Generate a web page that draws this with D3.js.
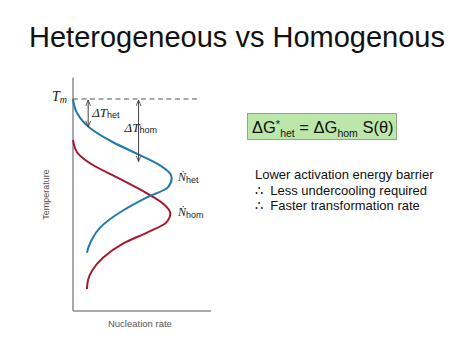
<!DOCTYPE html>
<html>
<head>
<meta charset="utf-8">
<script src="https://cdn.jsdelivr.net/npm/d3@7"></script>
<style>
  body { margin: 0; background: #fff; }
  svg { display: block; }
</style>
</head>
<body>
<svg id="chart" width="474" height="355"></svg>
<script>
// ---- data (rate in arbitrary units 0-100, temperature in arbitrary units, Tm = 100) ----
const titleText = "Heterogeneous vs Homogenous";
const hetRate = [0, 2.9, 12.3, 29, 48.6, 63, 70.3, 71.5, 68.8, 53.6, 36.2, 19.6, 13.5, 11.2, 10.1];
const hetTemp = [100, 93.4, 86.3, 79.6, 73.5, 68.7, 64.9, 62.6, 58.3, 53.6, 47.4, 39.3, 33.5, 30, 27.5];
const homRate = [0, 2.9, 12.3, 31.9, 53.6, 65.2, 70.5, 67.5, 53.6, 36.2, 21.7, 13.8, 10.9, 10.1];
const homTemp = [80.6, 74.9, 69.7, 63, 55.5, 50.7, 46, 41.7, 37, 31.8, 25.1, 19, 14.6, 10.4];
const Tm = 100;
const undercoolHet = { rate: 11, from: 100, to: 86.8 };
const undercoolHom = { rate: 47.5, from: 100, to: 70.5 };
const bullets = ["Lower activation energy barrier", "\u2234  Less undercooling required", "\u2234  Faster transformation rate"];

const svg = d3.select("#chart");

// title
svg.append("text")
  .attr("x", 237).attr("y", 47)
  .attr("text-anchor", "middle")
  .attr("font-family", "Liberation Sans, Arial, sans-serif")
  .attr("font-size", 29)
  .attr("fill", "#111")
  .text(titleText);

// scales
const x = d3.scaleLinear().domain([0, 100]).range([73, 211]);
const y = d3.scaleLinear().domain([0, 100]).range([311, 99]);

const g = svg.append("g");

// axes (plain lines, no ticks)
const xAxis = d3.axisBottom(x).ticks(0).tickSize(0).tickFormat("");
const yAxis = d3.axisLeft(y).ticks(0).tickSize(0).tickFormat("");
g.append("g").attr("transform", `translate(0,${y(0)})`).call(xAxis)
  .call(s => s.select(".domain").attr("stroke", "#8c8c8c").attr("stroke-width", 1.5).attr("d", `M${x(0)},0H${x(100)}`));
g.append("g").attr("transform", `translate(${x(0)},0)`).call(yAxis)
  .call(s => s.select(".domain").attr("stroke", "#8c8c8c").attr("stroke-width", 1.5).attr("d", `M0,${y(0)}V${y(110)}`));

// Tm dashed line
g.append("line")
  .attr("x1", x(0)).attr("x2", x(90)).attr("y1", y(Tm)).attr("y2", y(Tm))
  .attr("stroke", "#555").attr("stroke-width", 1).attr("stroke-dasharray", "5,3.5");

// Tm label
const tmLabel = g.append("text").attr("x", 52).attr("y", y(Tm) + 2)
  .attr("font-family", "Liberation Serif, DejaVu Serif, serif").attr("font-style", "italic")
  .attr("font-size", 14).attr("fill", "#222");
tmLabel.append("tspan").text("T");
tmLabel.append("tspan").attr("font-size", 10).attr("dy", 2).text("m");

// curves (temperature is monotone along each curve, so interpolate x as a function of y)
const line = d3.line().x(d => x(d[0])).y(d => y(d[1])).curve(d3.curveMonotoneY);
const hetPts = hetRate.map((r, i) => [r, hetTemp[i]]);
const homPts = homRate.map((r, i) => [r, homTemp[i]]);
g.append("path").attr("d", line(homPts)).attr("fill", "none").attr("stroke", "#a8182e").attr("stroke-width", 2);
g.append("path").attr("d", line(hetPts)).attr("fill", "none").attr("stroke", "#2378ad").attr("stroke-width", 2);

// arrow markers
const defs = svg.append("defs");
defs.append("marker").attr("id", "arr-end")
  .attr("viewBox", "0 0 10 10").attr("refX", 10).attr("refY", 5)
  .attr("markerWidth", 6).attr("markerHeight", 6).attr("orient", "auto-start-reverse")
  .attr("markerUnits", "userSpaceOnUse")
  .append("path").attr("d", "M0,1 L10,5 L0,9").attr("fill", "none").attr("stroke", "#444").attr("stroke-width", 1.4);
[undercoolHet, undercoolHom].forEach(a => {
  g.append("line")
    .attr("x1", x(a.rate)).attr("x2", x(a.rate))
    .attr("y1", y(a.from) + 1).attr("y2", y(a.to))
    .attr("stroke", "#444").attr("stroke-width", 1)
    .attr("marker-start", "url(#arr-end)").attr("marker-end", "url(#arr-end)");
});

function deltaLabel(xp, yp, sub) {
  const t = g.append("text").attr("x", xp).attr("y", yp)
    .attr("font-family", "Liberation Serif, DejaVu Serif, serif").attr("fill", "#222").attr("font-size", 13);
  t.append("tspan").attr("font-style", "italic").text("\u0394T");
  t.append("tspan").attr("font-family", "Liberation Sans, Arial, sans-serif").attr("font-size", 9).attr("dy", 1).text(sub);
}
deltaLabel(x(undercoolHet.rate) + 4, 117, "het");
deltaLabel(x(undercoolHom.rate) - 14, 132, "hom");

function nLabel(xp, yp, sub) {
  const t = g.append("text").attr("x", xp).attr("y", yp)
    .attr("font-family", "Liberation Serif, DejaVu Serif, serif").attr("fill", "#222").attr("font-size", 12);
  t.append("tspan").attr("font-style", "italic").text("\u1E44");
  t.append("tspan").attr("font-family", "Liberation Sans, Arial, sans-serif").attr("font-size", 9).attr("dy", 2).text(sub);
}
nLabel(178, 181, "het");
nLabel(178, 216, "hom");

// axis titles
g.append("text").attr("transform", `translate(49,${y(55)}) rotate(-90)`)
  .attr("text-anchor", "middle").attr("font-family", "Liberation Sans, Arial, sans-serif")
  .attr("font-size", 9).attr("fill", "#555").text("Temperature");
g.append("text").attr("x", x(48.5)).attr("y", 327)
  .attr("text-anchor", "middle").attr("font-family", "Liberation Sans, Arial, sans-serif")
  .attr("font-size", 9.5).attr("fill", "#555").text("Nucleation rate");

// equation box
svg.append("rect").attr("x", 247.5).attr("y", 113.5).attr("width", 149).attr("height", 26)
  .attr("fill", "#bde6ab").attr("stroke", "#8fa885").attr("stroke-width", 1);
const eq = svg.append("text").attr("x", 252).attr("y", 133)
  .attr("font-family", "Liberation Sans, Arial, sans-serif").attr("font-size", 16.5).attr("fill", "#111");
eq.append("tspan").text("\u0394G");
eq.append("tspan").attr("font-size", 11).attr("dy", -5).text("*");
eq.append("tspan").attr("font-size", 10.5).attr("dy", 9).text("het");
eq.append("tspan").attr("dy", -4).text(" = \u0394G");
eq.append("tspan").attr("font-size", 10.5).attr("dy", 4).text("hom");
eq.append("tspan").attr("dy", -4).text(" S(\u03B8)");

// bullet text
svg.append("g").selectAll("text").data(bullets).join("text")
  .attr("x", 255).attr("y", (d, i) => 179 + i * 15.5)
  .attr("font-family", "Liberation Sans, Arial, sans-serif").attr("font-size", 13).attr("fill", "#111")
  .attr("xml:space", "preserve").style("white-space", "pre")
  .text(d => d);
</script>
</body>
</html>
